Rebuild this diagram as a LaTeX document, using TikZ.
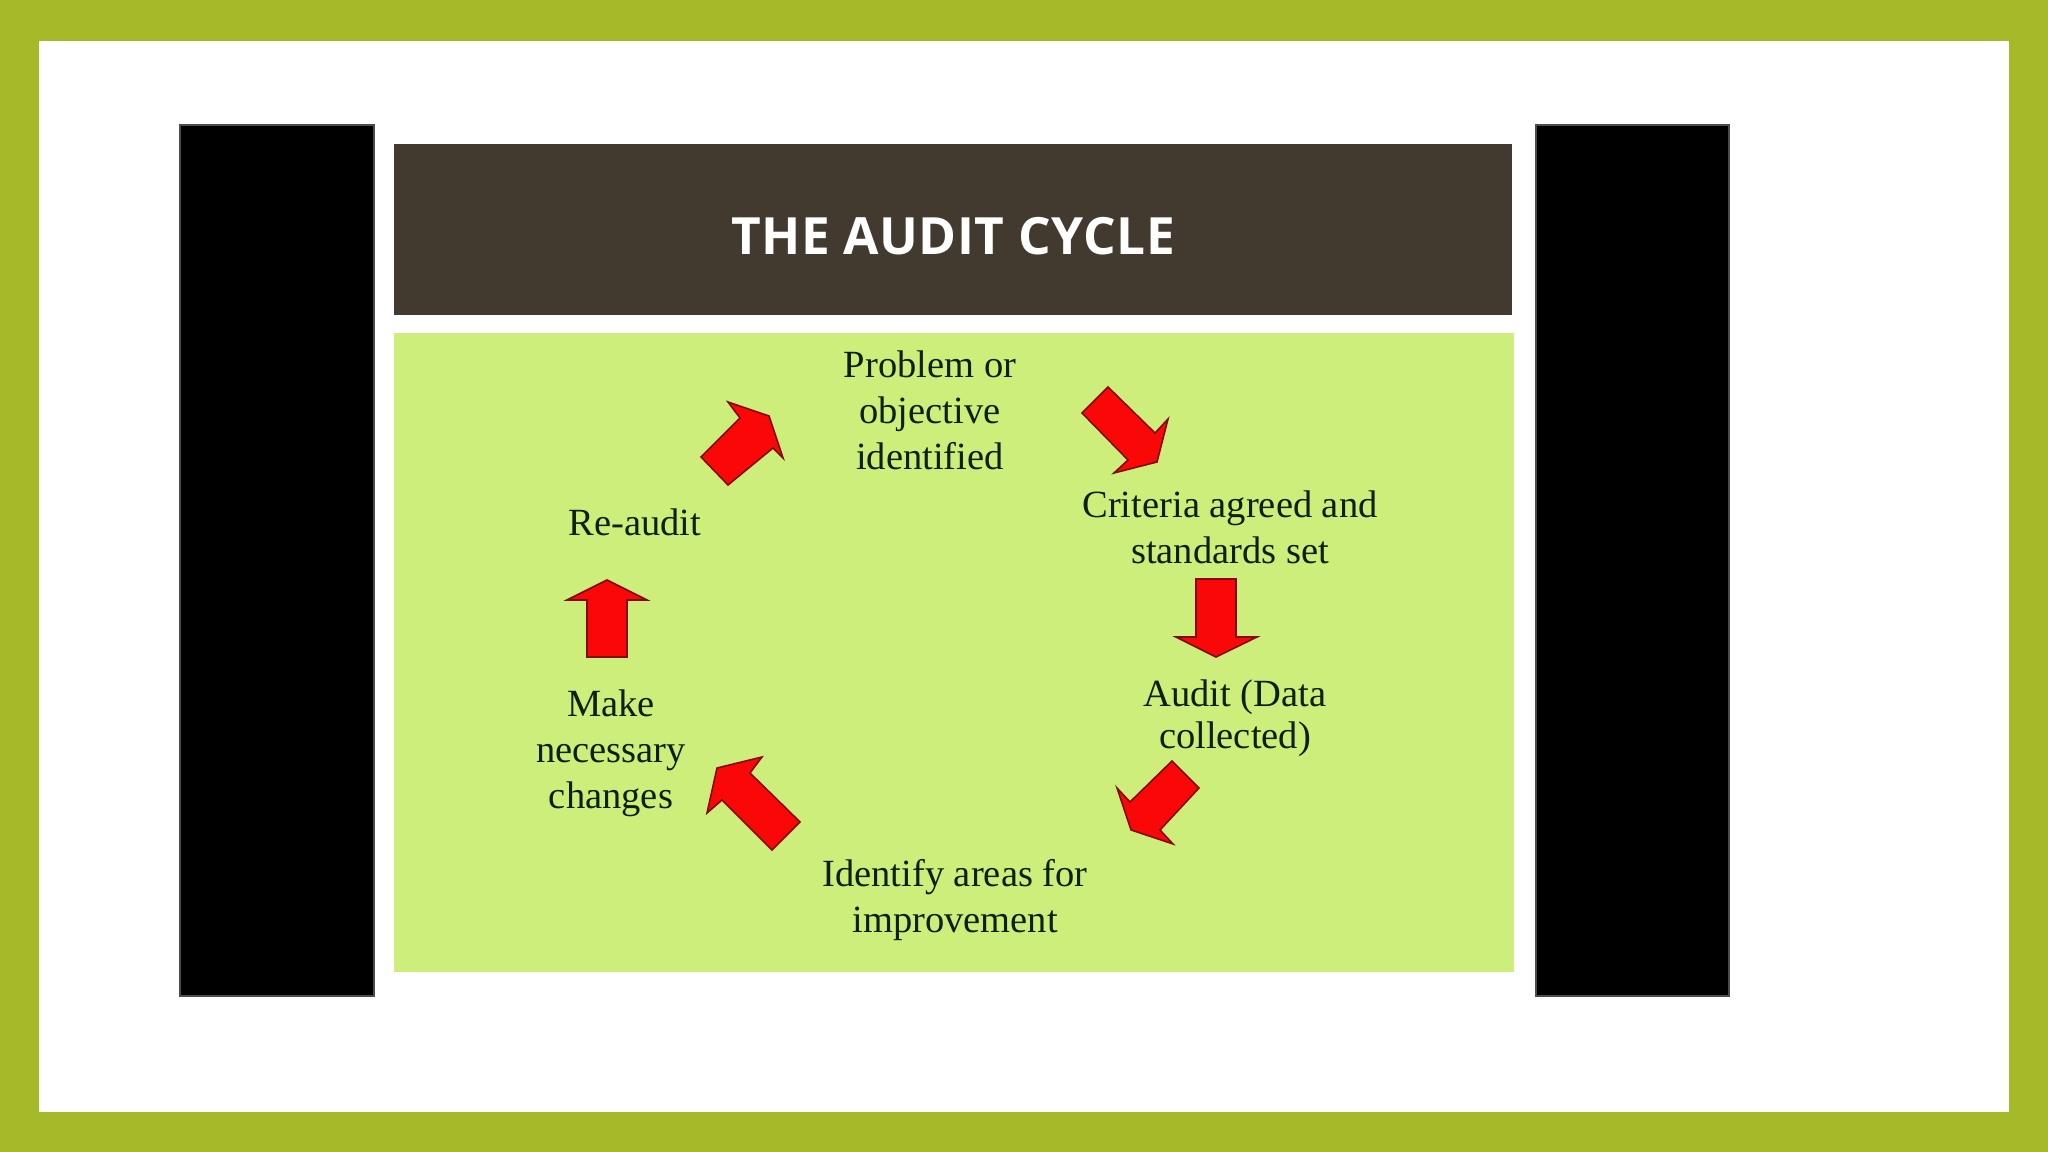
\documentclass[tikz,border=0pt]{standalone}
\usepackage{fontspec}
\setmainfont{Liberation Serif}
\newfontfamily\titlefont[LetterSpace=1]{Open Sans}
\definecolor{frameolive}{RGB}{166,185,40}
\definecolor{hdr}{RGB}{66,58,46}
\definecolor{pale}{RGB}{205,238,122}
\definecolor{ink}{RGB}{12,32,14}
\definecolor{arrowred}{RGB}{250,8,8}
\definecolor{arrowedge}{RGB}{130,10,10}
\begin{document}
\begin{tikzpicture}[x=0.01cm,y=-0.01cm,
  blockarrow/.style={fill=arrowred,draw=arrowedge,line width=0.45pt,line join=miter},
  steplabel/.style={text=ink,align=center,font=\fontsize{10.95pt}{13.1pt}\selectfont,inner sep=0pt},
  blackbar/.style={fill=black,draw=black!70,line width=0.3pt}]
% frame
\fill[frameolive] (0,0) rectangle (2048,1152);
\useasboundingbox (0,0) rectangle (2048,1152);
\fill[white] (39,41) rectangle (2009,1112);
% black bars
\draw[blackbar] (180,125) rectangle (374,996);
\draw[blackbar] (1536,125) rectangle (1729,996);
% header
\fill[hdr] (394,144) rectangle (1512,315);
\node[text=white,inner sep=0pt,font=\titlefont\bfseries\fontsize{14.6pt}{16pt}\selectfont] (title) at (953,236) {THE AUDIT CYCLE};
% green panel
\fill[pale] (394,333) rectangle (1514,972);
% labels
\node[steplabel] (problem) at (930,410) {Problem or\\objective\\identified};
\node[steplabel] (criteria) at (1230,527) {Criteria agreed and\\standards set};
\node[steplabel,font=\fontsize{10.95pt}{12pt}\selectfont] (audit) at (1235,718) {Audit (Data\\collected)};
\node[steplabel] (identify) at (955,900) {Identify areas for\\improvement};
\node[steplabel] (make) at (611,753) {Make\\necessary\\changes};
\node[steplabel] (reaudit) at (635,522) {Re-audit};
% arrows
% NE (Re-audit -> Problem)
\draw[blockarrow] (701,457) -- (740,418) -- (728,402) -- (769,416) -- (783,458) -- (773,448) -- (728,485) -- cycle;
% SE (Problem -> Criteria)
\draw[blockarrow] (1082,413) -- (1108,387) -- (1155,433) -- (1168,419) -- (1157,462) -- (1114,473) -- (1128,460) -- cycle;
% Down (Criteria -> Audit)
\draw[blockarrow] (1196,579) -- (1236,579) -- (1236,637) -- (1257,637) -- (1216,657) -- (1176,637) -- (1196,637) -- cycle;
% SW (Audit -> Identify)
\draw[blockarrow] (1172,761) -- (1199,788) -- (1160,830) -- (1173,844) -- (1131,830) -- (1117,788) -- (1130,802) -- cycle;
% NW (Identify -> Make)
\draw[blockarrow] (800,822) -- (772,850) -- (722,800) -- (707,813) -- (717,768) -- (762,757) -- (750,773) -- cycle;
% Up (Make -> Re-audit)
\draw[blockarrow] (587,657) -- (587,600) -- (567,600) -- (607,580) -- (647,600) -- (627,600) -- (627,657) -- cycle;
\end{tikzpicture}
\end{document}
